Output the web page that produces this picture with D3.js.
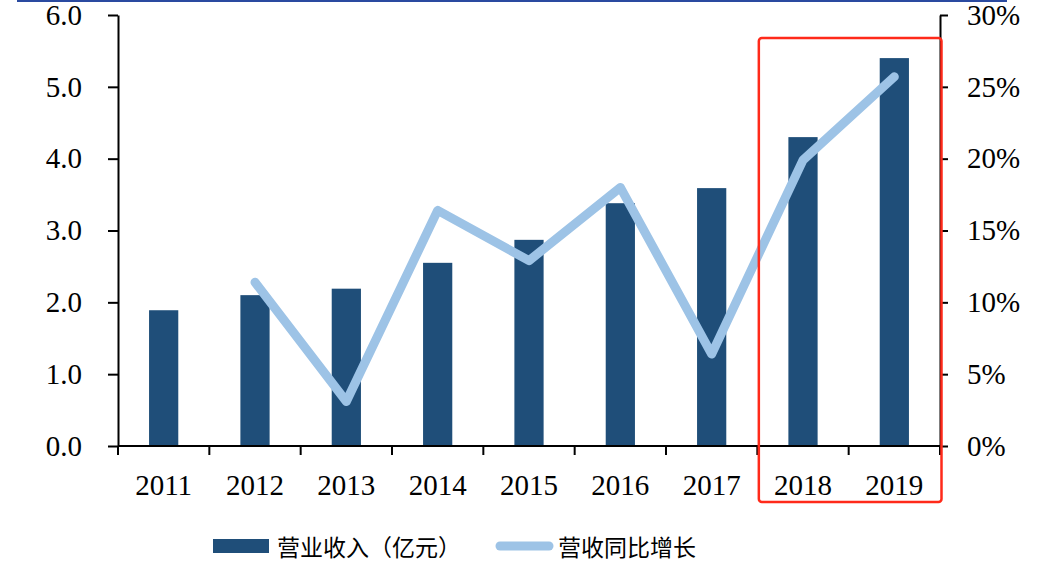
<!DOCTYPE html>
<html>
<head>
<meta charset="utf-8">
<script src="https://cdn.jsdelivr.net/npm/d3@7"></script>
<style>
  body { margin: 0; background: #fff; }
  svg { display: block; }
  .axis text { font-family: "Liberation Serif", "Times New Roman", serif; font-size: 29px; fill: #000; }
  .axis path, .axis line { stroke: #000; stroke-width: 2; }
  .legend text { font-family: "Noto Sans CJK SC", sans-serif; font-size: 23px; fill: #000; }
</style>
</head>
<body>
<div id="chart"></div>
<script>
const years = ['2011', '2012', '2013', '2014', '2015', '2016', '2017', '2018', '2019'];
const revenue = [1.89, 2.10, 2.19, 2.55, 2.87, 3.38, 3.59, 4.30, 5.40];
const growth = [null, 11.4, 3.1, 16.4, 12.9, 18.0, 6.4, 19.9, 25.7];
const leftTicks = [0, 1, 2, 3, 4, 5, 6];
const rightTicks = [0, 5, 10, 15, 20, 25, 30];
const highlightYears = ['2018', '2019'];
const legendLabels = ['营业收入（亿元）', '营收同比增长'];

const W = 1054, H = 568;
const margin = { top: 15, right: 114, bottom: 122, left: 118 };
const width = W - margin.left - margin.right;
const height = H - margin.top - margin.bottom;

const svg = d3.select('#chart').append('svg')
  .attr('width', W)
  .attr('height', H);

// thin rule along the top edge
svg.append('line')
  .attr('x1', 17).attr('x2', 1007)
  .attr('y1', 1).attr('y2', 1)
  .attr('stroke', '#2a4aa0')
  .attr('stroke-width', 2);

const g = svg.append('g')
  .attr('transform', `translate(${margin.left},${margin.top})`);

const x = d3.scaleBand()
  .domain(years)
  .range([0, width])
  .paddingInner(0.68)
  .paddingOuter(0.34);

const xOuter = d3.scaleBand()
  .domain(years)
  .range([0, width]);

const yLeft = d3.scaleLinear().domain([0, 6]).range([height, 0]);
const yRight = d3.scaleLinear().domain([0, 30]).range([height, 0]);

// bars
g.selectAll('rect.bar')
  .data(years.map((y, i) => ({ year: y, value: revenue[i] })))
  .enter().append('rect')
  .attr('class', 'bar')
  .attr('x', d => x(d.year))
  .attr('y', d => yLeft(d.value))
  .attr('width', x.bandwidth())
  .attr('height', d => height - yLeft(d.value))
  .attr('fill', '#1f4e79');

// growth line
const lineData = years.map((y, i) => ({ year: y, value: growth[i] })).filter(d => d.value !== null);
const line = d3.line()
  .x(d => xOuter(d.year) + xOuter.bandwidth() / 2)
  .y(d => yRight(d.value));

g.append('path')
  .datum(lineData)
  .attr('fill', 'none')
  .attr('stroke', '#9dc3e6')
  .attr('stroke-width', 9)
  .attr('stroke-linejoin', 'round')
  .attr('stroke-linecap', 'round')
  .attr('d', line);

// left axis
g.append('g')
  .attr('class', 'axis')
  .call(d3.axisLeft(yLeft).tickValues(leftTicks).tickSize(10).tickSizeOuter(0).tickPadding(26)
    .tickFormat(d3.format('.1f')));

// right axis
g.append('g')
  .attr('class', 'axis')
  .attr('transform', `translate(${width},0)`)
  .call(d3.axisRight(yRight).tickValues(rightTicks).tickSize(8).tickSizeOuter(0).tickPadding(19)
    .tickFormat(d => d + '%'));

// x axis: line with ticks at band boundaries, labels at band centres
const xAxis = g.append('g')
  .attr('class', 'axis')
  .attr('transform', `translate(0,${height})`);

xAxis.append('line')
  .attr('x1', 0).attr('x2', width)
  .attr('y1', 0).attr('y2', 0);

const bounds = years.map(y => xOuter(y)).concat([width]);
xAxis.selectAll('line.tick')
  .data(bounds)
  .enter().append('line')
  .attr('class', 'tick')
  .attr('x1', d => d).attr('x2', d => d)
  .attr('y1', 0).attr('y2', 9);

xAxis.selectAll('text')
  .data(years)
  .enter().append('text')
  .attr('x', d => xOuter(d) + xOuter.bandwidth() / 2)
  .attr('y', 49)
  .attr('text-anchor', 'middle')
  .text(d => d);

// highlight box
const hx0 = xOuter(highlightYears[0]);
const hx1 = xOuter(highlightYears[highlightYears.length - 1]) + xOuter.bandwidth();
g.append('rect')
  .attr('x', hx0 + 1.5)
  .attr('y', 23)
  .attr('width', hx1 - hx0)
  .attr('height', 464)
  .attr('rx', 3)
  .attr('fill', 'none')
  .attr('stroke', '#ff2a1a')
  .attr('stroke-width', 2.5);

// legend
const legend = svg.append('g').attr('class', 'legend');
legend.append('rect')
  .attr('x', 213).attr('y', 539)
  .attr('width', 56).attr('height', 14)
  .attr('fill', '#1f4e79');
legend.append('text')
  .attr('x', 277).attr('y', 546)
  .attr('dominant-baseline', 'central')
  .text(legendLabels[0]);
legend.append('line')
  .attr('x1', 500).attr('x2', 549)
  .attr('y1', 546).attr('y2', 546)
  .attr('stroke', '#9dc3e6')
  .attr('stroke-width', 9)
  .attr('stroke-linecap', 'round');
legend.append('text')
  .attr('x', 558).attr('y', 546)
  .attr('dominant-baseline', 'central')
  .text(legendLabels[1]);
</script>
</body>
</html>
